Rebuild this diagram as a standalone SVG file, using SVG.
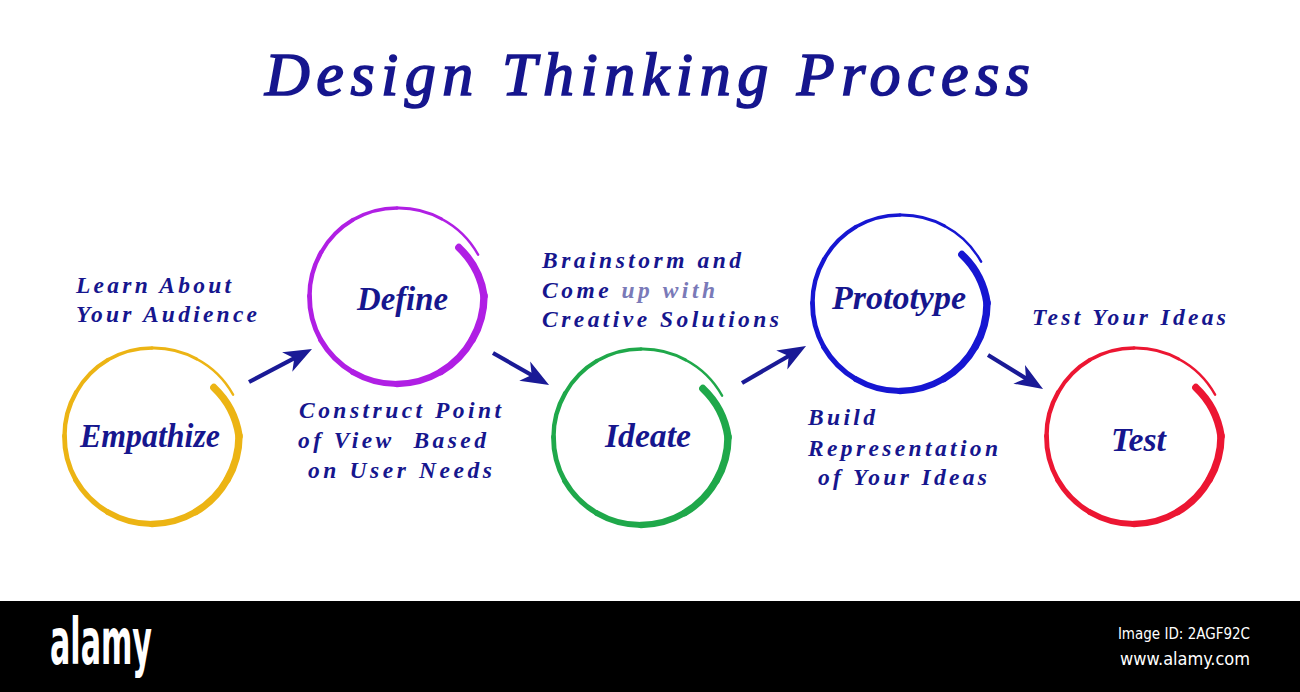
<svg xmlns="http://www.w3.org/2000/svg" width="1300" height="692" viewBox="0 0 1300 692">
<style>
  .t{font-family:"Liberation Serif","Times New Roman",serif;font-style:italic;fill:#16168e}
  .title{font-size:62px;font-weight:normal;stroke:#16168e;stroke-width:1.7}
  .lbl{font-size:33px;font-weight:bold}
  .d{font-size:23.5px;font-weight:bold}
  .ring path{fill:none;stroke-linecap:round}
  .arr{stroke:#1a1a96;stroke-width:4.2;fill:none}
  .wm{fill:#fff;font-family:"Liberation Sans Narrow","DejaVu Sans Condensed","Liberation Sans",sans-serif}
</style>
<defs>
  <g id="ring" class="ring">
    <path stroke-width="7.5" stroke-linecap="butt" d="M61.9,-48.4 A83 83 0 0 1 87,0"/>
    <path stroke-width="7.4" d="M87,0 A87 87 0 0 1 75.3,43.5"/>
    <path stroke-width="7" d="M75.3,43.5 A87.5 87.5 0 0 1 43.8,75.8"/>
    <path stroke-width="6.5" d="M43.8,75.8 A88 88 0 0 1 0,88"/>
    <path stroke-width="5.9" d="M0,88 A88 88 0 0 1 -44,76.2"/>
    <path stroke-width="5.3" d="M-44,76.2 A88 88 0 0 1 -76.2,44"/>
    <path stroke-width="4.8" d="M-76.2,44 A88 88 0 0 1 -87.5,0"/>
    <path stroke-width="4.4" d="M-87.5,0 A87.5 87.5 0 0 1 -75.8,-43.8"/>
    <path stroke-width="4" d="M-75.8,-43.8 A88 88 0 0 1 -44,-76.2"/>
    <path stroke-width="3.6" d="M-44,-76.2 A88 88 0 0 1 0,-88"/>
    <path stroke-width="3.1" d="M0,-88 A89 89 0 0 1 44.5,-77.1"/>
    <path stroke-width="2.4" d="M44.5,-77.1 A90 90 0 0 1 81.1,-41.3"/>
  </g>
  <marker id="ah" markerUnits="userSpaceOnUse" viewBox="-30 -12 40 24" markerWidth="40" markerHeight="24" refX="-8" refY="0" orient="auto" overflow="visible">
    <path d="M0,0 L-28,-11 L-20,0 L-28,11 Z" fill="#1a1a96"/>
  </marker>
</defs>
<rect x="0" y="0" width="1300" height="692" fill="#fff"/>
<text class="t title" x="265" y="95" textLength="765" lengthAdjust="spacing">Design Thinking Process</text>

<g id="connectors">
  <line class="arr" x1="249" y1="382" x2="304.9" y2="352.7" marker-end="url(#ah)"/>
  <line class="arr" x1="493" y1="353" x2="542.1" y2="381" marker-end="url(#ah)"/>
  <line class="arr" x1="742" y1="383" x2="799.1" y2="350" marker-end="url(#ah)"/>
  <line class="arr" x1="988" y1="355" x2="1036.2" y2="384.8" marker-end="url(#ah)"/>
</g>

<g id="node-empathize">
  <use href="#ring" transform="translate(152,436)" stroke="#ecb414"/>
  <text class="t lbl" x="80" y="447" textLength="140" lengthAdjust="spacingAndGlyphs">Empathize</text>
</g>
<g id="node-define">
  <use href="#ring" transform="translate(397,296)" stroke="#b01fe4"/>
  <text class="t lbl" x="357" y="310" textLength="91" lengthAdjust="spacingAndGlyphs">Define</text>
</g>
<g id="node-ideate">
  <use href="#ring" transform="translate(641,437)" stroke="#1fa84a"/>
  <text class="t lbl" x="605" y="447" textLength="86" lengthAdjust="spacingAndGlyphs">Ideate</text>
</g>
<g id="node-prototype">
  <use href="#ring" transform="translate(900,303)" stroke="#1616d2"/>
  <text class="t lbl" x="832" y="309" textLength="134" lengthAdjust="spacingAndGlyphs">Prototype</text>
</g>
<g id="node-test">
  <use href="#ring" transform="translate(1134,436)" stroke="#ec1632"/>
  <text class="t lbl" x="1111" y="451" textLength="55" lengthAdjust="spacingAndGlyphs">Test</text>
</g>

<g id="descriptions">
  <text class="t d" x="76" y="293" textLength="155" lengthAdjust="spacing">Learn About</text>
  <text class="t d" x="76" y="322" textLength="181" lengthAdjust="spacing">Your Audience</text>

  <text class="t d" x="299" y="418" textLength="202" lengthAdjust="spacing">Construct Point</text>
  <text class="t d" x="298" y="448" textLength="188" lengthAdjust="spacing" style="white-space:pre">of View  Based</text>
  <text class="t d" x="308" y="478" textLength="184" lengthAdjust="spacing">on User Needs</text>

  <text class="t d" x="542" y="268" textLength="199" lengthAdjust="spacing">Brainstorm and</text>
  <text class="t d" x="542" y="298" textLength="173" lengthAdjust="spacing">Come <tspan fill="#7a7ab8">up with</tspan></text>
  <text class="t d" x="542" y="327" textLength="237" lengthAdjust="spacing">Creative Solutions</text>

  <text class="t d" x="808" y="425" textLength="67" lengthAdjust="spacing">Build</text>
  <text class="t d" x="808" y="456" textLength="190" lengthAdjust="spacing">Representation</text>
  <text class="t d" x="818" y="485" textLength="169" lengthAdjust="spacing">of Your Ideas</text>

  <text class="t d" x="1032" y="325" textLength="194" lengthAdjust="spacing">Test Your Ideas</text>
</g>

<rect x="0" y="601" width="1300" height="91" fill="#000"/>
<text class="wm" x="50" y="664" font-size="64" font-weight="bold" textLength="102" lengthAdjust="spacingAndGlyphs">alamy</text>
<text class="wm" x="1250" y="639" font-size="15" text-anchor="end">Image ID: 2AGF92C</text>
<text class="wm" x="1250" y="665" font-size="18" text-anchor="end">www.alamy.com</text>
</svg>
